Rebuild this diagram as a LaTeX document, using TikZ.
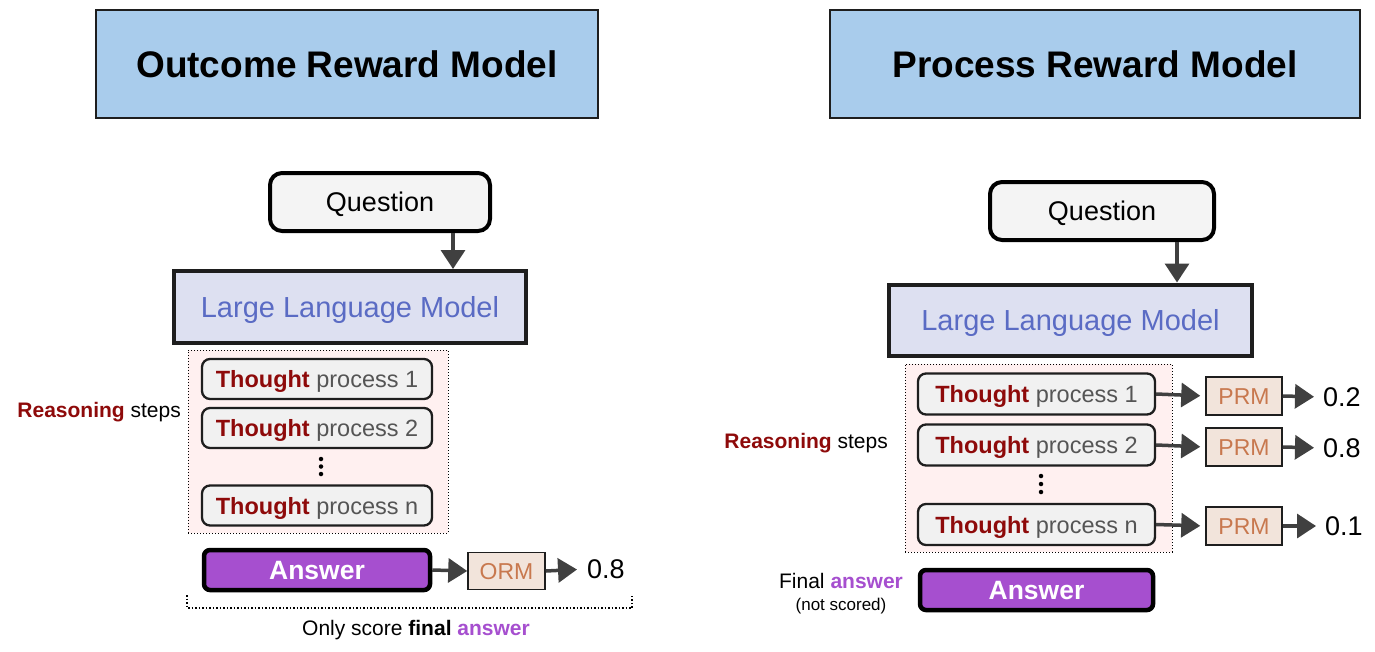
\documentclass[tikz,border=0pt]{standalone}
\usepackage{fontspec}
\setmainfont{Liberation Sans}
\usetikzlibrary{arrows.meta}
\definecolor{titleblue}{HTML}{A9CCEC}
\definecolor{qfill}{HTML}{F4F4F4}
\definecolor{llmfill}{HTML}{DDE0F1}
\definecolor{llmtext}{HTML}{5A6BC4}
\definecolor{pinkbg}{HTML}{FFF0F0}
\definecolor{tfill}{HTML}{F1F1F1}
\definecolor{tred}{HTML}{8E0A0A}
\definecolor{tgray}{HTML}{555555}
\definecolor{ansfill}{HTML}{A64FCF}
\definecolor{rmfill}{HTML}{F2E4DB}
\definecolor{rmtext}{HTML}{C8784E}
\definecolor{arrcol}{HTML}{404040}
\definecolor{edge}{HTML}{1E1E1E}
\tikzset{
  titlebox/.style={draw=edge, line width=1.5pt, fill=titleblue, inner sep=0pt,
    text height=26.5pt, text depth=0pt, font=\bfseries\fontsize{37}{42}\selectfont},
  qbox/.style={draw=black, line width=4pt, fill=qfill, rounded corners=12pt, inner sep=0pt,
    text height=19.5pt, text depth=0pt, font=\fontsize{27}{31}\selectfont},
  llmbox/.style={draw=edge, line width=4pt, fill=llmfill, inner sep=0pt, text=llmtext,
    text height=21pt, text depth=0pt, font=\fontsize{29}{33}\selectfont},
  reason/.style={draw=black, dotted, line width=1pt, fill=pinkbg},
  tbox/.style={draw=edge, line width=2.3pt, fill=tfill, rounded corners=8pt, inner sep=0pt,
    text height=17pt, text depth=0pt, font=\fontsize{23.5}{27}\selectfont},
  ansbox/.style={draw=black, line width=4.5pt, fill=ansfill, rounded corners=6pt, inner sep=0pt,
    text=white, text height=19pt, text depth=0pt, font=\bfseries\fontsize{26.5}{30}\selectfont},
  rmbox/.style={draw=edge, line width=1.5pt, fill=rmfill, inner sep=0pt, text=rmtext,
    text height=16.5pt, text depth=0pt, font=\fontsize{23}{27}\selectfont},
  val/.style={inner sep=0pt, text height=19.5pt, text depth=0pt, font=\fontsize{27}{31}\selectfont},
  lbl/.style={inner sep=0pt, text height=15pt, text depth=0pt, font=\fontsize{21}{25}\selectfont},
  arr/.style={draw=arrcol, line width=3.5pt, -{Triangle[length=19pt,width=24pt]}},
  vdots/.style={circle, fill=black, inner sep=0pt, minimum size=4.5pt},
}
\newcommand{\thought}[1]{{\color{tred}\bfseries Thought} {\color{tgray}process #1}}
\begin{document}
\begin{tikzpicture}[x=1pt,y=-1pt]
\useasboundingbox (0,0) rectangle (1375,651);
% ---------- Left: Outcome Reward Model ----------
\node[titlebox, minimum width=502, minimum height=108] (t1) at (347,64) {Outcome Reward Model};
\node[qbox, minimum width=220, minimum height=58] (q1) at (380,202) {Question};
\node[llmbox, minimum width=352, minimum height=72] (llm1) at (350,307) {Large Language Model};
\coordinate (a1) at (453,0);
\draw[arr] (q1.south -| a1) -- (llm1.north -| a1);
\node[reason, minimum width=260, minimum height=183] (r1) at (318,441.5) {};
\node[tbox, minimum width=230, minimum height=40] (t11) at (317,379) {\thought{1}};
\node[tbox, minimum width=230, minimum height=40] (t12) at (317,428) {\thought{2}};
\node[tbox, minimum width=230, minimum height=40] (t1n) at (317,505.5) {\thought{n}};
\node[vdots] (d11) at (321,459) {};
\node[vdots] (d12) at (321,466.5) {};
\node[vdots] (d13) at (321,474) {};
\node[lbl, anchor=east] (rs1) at (181,410) {{\color{tred}\bfseries Reasoning} steps};
\node[ansbox, minimum width=226, minimum height=40] (ans1) at (317,570) {Answer};
\node[rmbox, minimum width=77, minimum height=37] (orm) at (506.5,571) {ORM};
\node[val, anchor=west] (v1) at (587,569) {0.8};
\draw[arr] (ans1.east) -- (orm.west);
\draw[arr, shorten >=10pt] (orm.east) -- (v1.west);
\coordinate (b1) at (187,595);
\coordinate (b2) at (632,595);
\draw[black, dotted, line width=1.5pt] (b1) -- ++(0,13) -| (b2);
\node[lbl] (only) at (416,628) {Only score {\bfseries final} {\color{ansfill}\bfseries answer}};
% ---------- Right: Process Reward Model ----------
\node[titlebox, minimum width=530, minimum height=108] (t2) at (1095,64) {Process Reward Model};
\node[qbox, minimum width=224, minimum height=58] (q2) at (1102,211) {Question};
\node[llmbox, minimum width=363, minimum height=71] (llm2) at (1070.5,320) {Large Language Model};
\coordinate (a2) at (1177,0);
\draw[arr] (q2.south -| a2) -- (llm2.north -| a2);
\node[reason, minimum width=267, minimum height=188] (r2) at (1038.5,458) {};
\node[tbox, minimum width=237, minimum height=41] (t21) at (1036.5,394) {\thought{1}};
\node[tbox, minimum width=237, minimum height=41] (t22) at (1036.5,445) {\thought{2}};
\node[tbox, minimum width=237, minimum height=41] (t2n) at (1036.5,524.5) {\thought{n}};
\node[vdots] (d21) at (1041,476) {};
\node[vdots] (d22) at (1041,484) {};
\node[vdots] (d23) at (1041,492) {};
\node[lbl, anchor=east] (rs2) at (888,441) {{\color{tred}\bfseries Reasoning} steps};
\node[rmbox, minimum width=76, minimum height=38] (p1) at (1244,396) {PRM};
\node[rmbox, minimum width=76, minimum height=38] (p2) at (1244,447) {PRM};
\node[rmbox, minimum width=76, minimum height=38] (p3) at (1244,526) {PRM};
\node[val, anchor=west] (v21) at (1323,397) {0.2};
\node[val, anchor=west] (v22) at (1323,448) {0.8};
\node[val, anchor=west] (v23) at (1325,526) {0.1};
\draw[arr, shorten >=5pt] (t21.east) -- (p1.west);
\draw[arr, shorten >=5pt] (t22.east) -- (p2.west);
\draw[arr, shorten >=5pt] (t2n.east) -- (p3.west);
\draw[arr, shorten >=9pt] (p1.east) -- (v21.west);
\draw[arr, shorten >=9pt] (p2.east) -- (v22.west);
\draw[arr, shorten >=9pt] (p3.east) -- (v23.west);
\node[ansbox, minimum width=233, minimum height=40] (ans2) at (1036.5,590) {Answer};
\node[lbl, font=\fontsize{21}{25}\selectfont] (fa) at (841,581) {Final {\color{ansfill}\bfseries answer}};
\node[lbl, text height=12pt, font=\fontsize{17}{20}\selectfont] (ns) at (841,604) {(not scored)};
\end{tikzpicture}
\end{document}
